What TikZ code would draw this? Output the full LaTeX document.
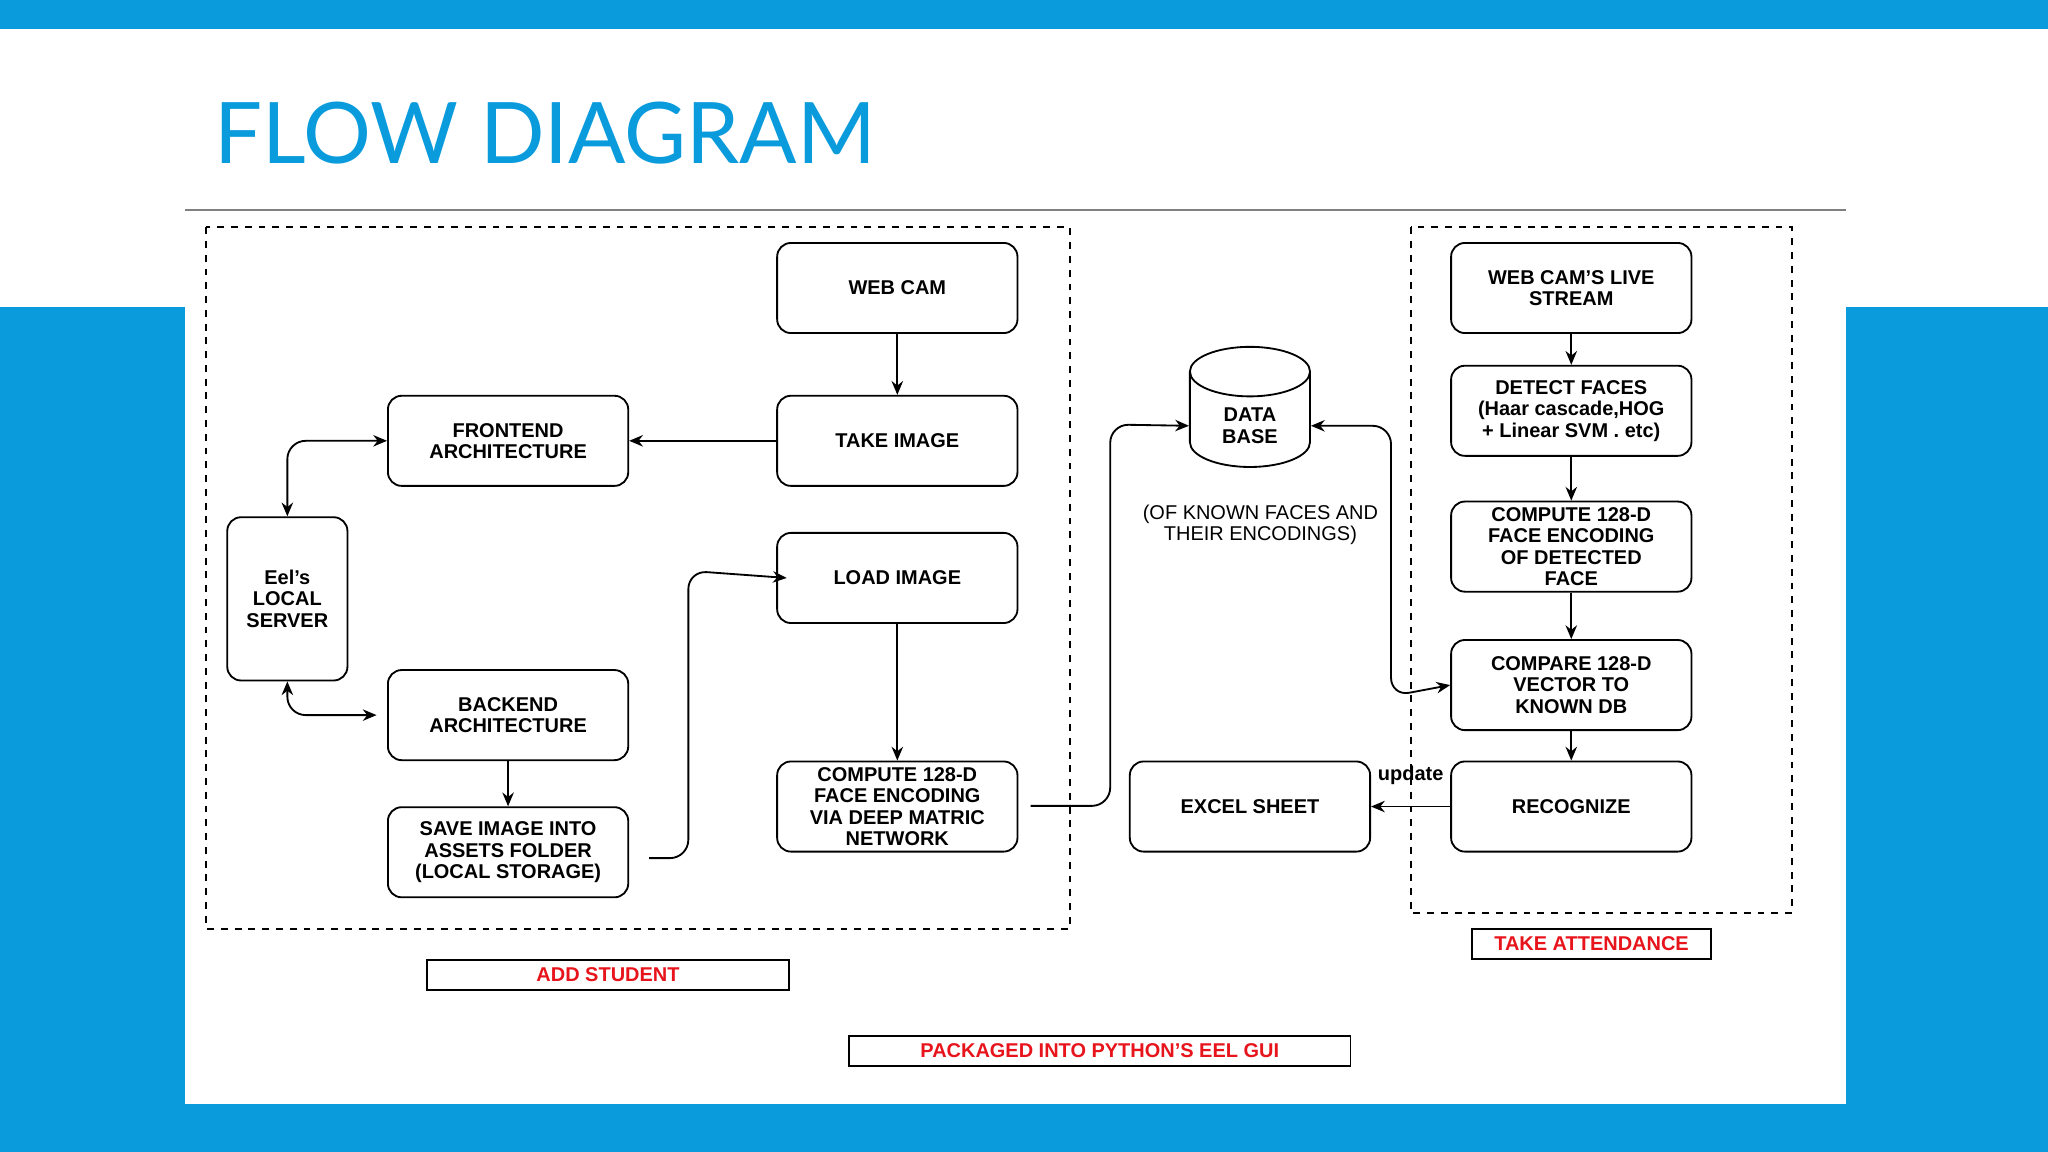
\documentclass[tikz,border=0pt]{standalone}
\usepackage{fontspec}
\setmainfont{Liberation Sans}
\newfontfamily\titlefont{Lato}
\usetikzlibrary{arrows.meta,shapes.geometric}
\definecolor{sky}{HTML}{0A9BDC}
\definecolor{redt}{HTML}{E8141C}
\begin{document}
\begin{tikzpicture}[x=0.02cm,y=-0.02cm,
  box/.style={draw,thick,rounded corners=6,align=center,font=\fontsize{8.7}{9.3}\selectfont\bfseries,inner sep=0pt},
  arr/.style={-{Stealth[length=6pt,width=5pt]},thick,rounded corners=8},
  barr/.style={{Stealth[length=6pt,width=5pt]}-{Stealth[length=6pt,width=5pt]},thick,rounded corners=8},
  lab/.style={draw,thick,text=redt,font=\fontsize{8.7}{9.3}\selectfont\bfseries,inner sep=0pt},
  dbox/.style={draw,dashed,thick}]
\fill[sky] (0,0) rectangle (1568,882);
\fill[white] (0,22) rectangle (1568,235);
\fill[white] (142,22) rectangle (1413,845);
\useasboundingbox (0,0) rectangle (1568,882);
\node[anchor=west,text=sky,font=\titlefont\fontsize{37}{40}\selectfont,inner sep=0pt] (title) at (164,102) {FLOW DIAGRAM};
\draw[gray,thick] (142,161) -- (1413,161);
\draw[dbox] (158,174) rectangle (819,711);
\draw[dbox] (1080,174) rectangle (1372,699);
\def\bx#1#2#3#4#5#6{\node[box,minimum width={(#4-#2)*0.02cm},minimum height={(#5-#3)*0.02cm}] (#1) at ({(#2+#4)/2},{(#3+#5)/2}) {#6};}
\bx{webcam}{595}{186}{779}{255}{WEB CAM}
\bx{take}{595}{303}{779}{372}{TAKE IMAGE}
\bx{front}{297}{303}{481}{372}{FRONTEND\\ARCHITECTURE}
\bx{eel}{174}{396}{266}{521}{Eel's\\LOCAL\\SERVER}
\bx{load}{595}{408}{779}{477}{LOAD IMAGE}
\bx{back}{297}{513}{481}{582}{BACKEND\\ARCHITECTURE}
\bx{save}{297}{618}{481}{687}{SAVE IMAGE INTO\\ASSETS FOLDER\\(LOCAL STORAGE)}
\bx{comp}{595}{583}{779}{652}{COMPUTE 128-D\\FACE ENCODING\\VIA DEEP MATRIC\\NETWORK}
\bx{excel}{865}{583}{1049}{652}{EXCEL SHEET}
\bx{live}{1111}{186}{1295}{255}{WEB CAM'S LIVE\\STREAM}
\bx{detect}{1111}{280}{1295}{349}{DETECT FACES\\(Haar cascade,HOG\\+ Linear SVM . etc)}
\bx{comp2}{1111}{384}{1295}{453}{COMPUTE 128-D\\FACE ENCODING\\OF DETECTED\\FACE}
\bx{compare}{1111}{490}{1295}{559}{COMPARE 128-D\\VECTOR TO\\KNOWN DB}
\bx{recog}{1111}{583}{1295}{652}{RECOGNIZE}
\node[cylinder,shape border rotate=90,draw,thick,minimum width=1.84cm,minimum height=1.84cm,aspect=0.7,align=center,font=\fontsize{8.7}{9.3}\selectfont\bfseries] (db) at (957,326) {DATA\\BASE};
\node[align=center,font=\fontsize{8.7}{9.3}\selectfont] (dbcap) at (965,402) {(OF KNOWN FACES AND\\THEIR ENCODINGS)};
\node[lab,minimum width=5.54cm,minimum height=0.46cm] (l1) at (465.5,746.5) {ADD STUDENT};
\node[lab,minimum width=3.66cm,minimum height=0.46cm] (l2) at (1218.5,722.5) {TAKE ATTENDANCE};
\node[lab,minimum width=7.68cm,minimum height=0.46cm] (l3) at (842,804.5) {PACKAGED INTO PYTHON'S EEL GUI};
\draw[arr] (webcam) -- (take);
\draw[arr] (take) -- (front);
\draw[barr] (front.west) -| (eel.north);
\draw[barr] (eel.south) |- ([xshift=-0.16cm]back.west);
\draw[arr] (back) -- (save);
\coordinate (s1) at (497,657);
\draw[arr] (s1) -| (527,437) -- ([xshift=0.16cm]load.west);
\draw[arr] (load) -- (comp);
\coordinate (c1) at (789,617);
\draw[arr] (c1) -| (850,325) -- (db.west);
\draw[barr] (db.east) -| (1065,533) -- (compare.west);
\draw[arr] (live) -- (detect);
\draw[arr] (detect) -- (comp2);
\draw[arr] (comp2) -- (compare);
\draw[arr] (compare) -- (recog);
\draw[arr] (recog) -- node[above,font=\fontsize{8.7}{9.3}\selectfont\bfseries,yshift=6pt] {update} (excel);
\end{tikzpicture}
\end{document}
